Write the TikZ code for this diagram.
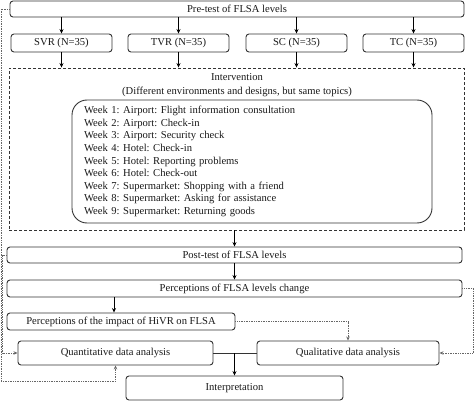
\documentclass[tikz,border=0pt]{standalone}
\usepackage{fontspec}
\setmainfont{Liberation Serif}
\usetikzlibrary{arrows.meta,calc}
\begin{document}
\frenchspacing
\begin{tikzpicture}[x=1pt,y=-1pt,
  font=\fontsize{10.6}{12.6}\selectfont,
  box/.style={draw=black!80,line width=0.9pt,rounded corners=3pt,inner sep=0pt,text=black!90},
  arr/.style={-{Stealth[length=4.5pt,width=4pt]},line width=0.9pt,black},
  dots/.style={densely dotted,line width=0.7pt,black!60},
  darr/.style={dots,-{Stealth[length=4pt,width=3.5pt]}}]
\useasboundingbox (0,0) rectangle (474,401);
\node[box,minimum width=454pt,minimum height=16pt] (pre) at (237,9) {Pre-test of FLSA levels};
\node[box,minimum width=101pt,minimum height=18pt] (svr) at (61.5,43) {SVR (N=35)};
\node[box,minimum width=101pt,minimum height=18pt] (tvr) at (178.5,43) {TVR (N=35)};
\node[box,minimum width=101pt,minimum height=18pt] (sc) at (296.5,43) {SC (N=35)};
\node[box,minimum width=101pt,minimum height=18pt] (tc) at (413.5,43) {TC (N=35)};
\node[draw=black!80,line width=0.9pt,dashed,dash pattern=on 3pt off 2pt,minimum width=455pt,minimum height=162pt,inner sep=0pt] (interv) at (236.5,149) {};
\node[align=center,inner sep=0pt,text=black!90,font=\fontsize{10.6}{14}\selectfont] (ititle) at (237,85) {Intervention\\(Different environments and designs, but same topics)};
\node[box,rounded corners=15pt,minimum width=360pt,minimum height=123pt,inner xsep=12pt,inner ysep=0pt,text width=336pt,align=left] (weeks) at (252,161.5) {Week 1: Airport: Flight information consultation\\
Week 2: Airport: Check-in\\
Week 3: Airport: Security check\\
Week 4: Hotel: Check-in\\
Week 5: Hotel: Reporting problems\\
Week 6: Hotel: Check-out\\
Week 7: Supermarket: Shopping with a friend\\
Week 8: Supermarket: Asking for assistance\\
Week 9: Supermarket: Returning goods};
\node[box,minimum width=455pt,minimum height=16pt] (post) at (234.5,255) {Post-test of FLSA levels};
\node[box,minimum width=455pt,minimum height=17pt] (change) at (234.5,288.5) {Perceptions of FLSA levels change};
\node[box,minimum width=228pt,minimum height=17pt] (hivr) at (121,321.5) {Perceptions of the impact of HiVR on FLSA};
\node[box,minimum width=195pt,minimum height=24pt] (quant) at (115.5,353) {Quantitative data analysis};
\node[box,minimum width=182pt,minimum height=24pt] (qual) at (348,353) {Qualitative data analysis};
\node[box,minimum width=217pt,minimum height=24pt] (interp) at (234.5,388) {Interpretation};
% arrows
\foreach \n in {svr,tvr,sc,tc}{
  \draw[arr] (\n.north |- pre.south) -- (\n.north);
  \draw[arr] (\n.south) -- (\n.south |- interv.north);
}
\draw[arr] (post.north |- interv.south) -- (post.north);
\draw[arr] (post.south) -- (change.north);
\draw[arr] ([xshift=-7pt]hivr.north |- change.south) -- ([xshift=-7pt]hivr.north);
\draw[line width=0.9pt,black!80] (quant.east) -- (qual.west);
\coordinate (mid) at (interp.north |- quant.east);
\draw[arr] (mid) -- (interp.north);
% dotted feedback
\coordinate (lb) at (1,381);
\draw[darr] (pre.west) -| (lb) -| (quant.south);
\draw[darr] (post.west) -- ++(-4,0) |- (quant.west);
\draw[darr] (change.east) -- ++(11,0) |- (qual.east);
\draw[darr] (hivr.east) -| (qual.north);
\end{tikzpicture}
\end{document}
